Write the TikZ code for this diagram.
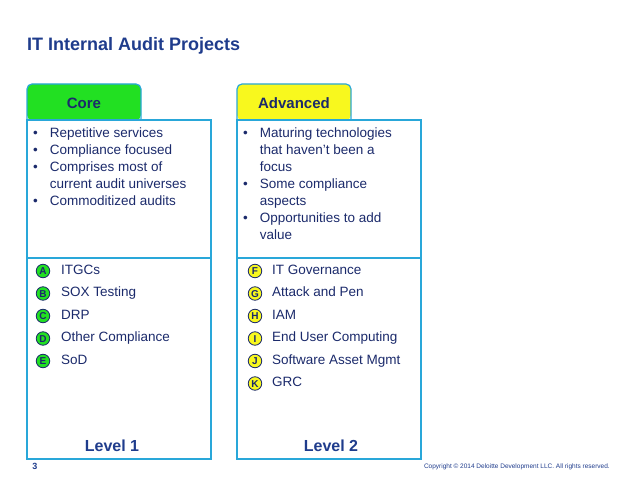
\documentclass[tikz,border=0pt]{standalone}
\usepackage{fontspec}
\setmainfont{Liberation Sans}
\begin{document}
\begin{tikzpicture}[x=1pt,y=-1pt,
  txt/.style={text=navy,font=\fontsize{13.5}{17}\selectfont,anchor=north west,inner sep=0pt,align=left},
  item/.style={text=navy,font=\fontsize{13.5}{16}\selectfont,anchor=west,inner sep=0pt,text height=9.7pt,text depth=2.8pt},
  tabbox/.style={draw=frame,line width=1.2pt,rounded corners=5pt},
  badge/.style={circle,draw=navy,line width=0.8pt,inner sep=0pt,minimum size=13.5pt,font=\fontsize{10}{10}\selectfont\bfseries,text=navy,text height=7.2pt,text depth=0pt}]
\definecolor{navy}{HTML}{1B2A6B}
\definecolor{frame}{HTML}{29A7D9}
\definecolor{titleblue}{HTML}{1F3C8C}
\definecolor{cgreen}{HTML}{22E022}
\definecolor{cyellow}{HTML}{F8F81E}
\useasboundingbox (0,0) rectangle (638,478);
\node[anchor=west,text=titleblue,font=\fontsize{18}{20}\selectfont\bfseries,inner sep=0pt] (title) at (27,46) {IT Internal Audit Projects};
% tabs
\fill[cgreen,rounded corners=5pt] (27,120) -- (27,84) -- (141,84) -- (141,120) -- cycle;
\draw[tabbox] (27,120) -- (27,84) -- (141,84) -- (141,120);
\fill[cyellow,rounded corners=5pt] (237,120) -- (237,84) -- (351,84) -- (351,120) -- cycle;
\draw[tabbox] (237,120) -- (237,84) -- (351,84) -- (351,120);
\node[text=navy,font=\fontsize{15}{17}\selectfont\bfseries] (core) at (84,103) {Core};
\node[text=navy,font=\fontsize{15}{17}\selectfont\bfseries] (adv) at (294,103) {Advanced};
% boxes
\draw[frame,line width=1.2pt] (27,120) rectangle (211,459);
\draw[frame,line width=1.2pt] (237,120) rectangle (421,459);
\draw[frame,line width=1.2pt] (27,258) -- (211,258);
\draw[frame,line width=1.2pt] (237,258) -- (421,258);
% bullets
\node[txt] (lb) at (33,125) {\begin{tabular}{@{}l@{\hspace{12pt}}l@{}}
•&Repetitive services\\ •&Compliance focused\\ •&Comprises most of\\ &current audit universes\\ •&Commoditized audits\end{tabular}};
\node[txt] (rb) at (243,125) {\begin{tabular}{@{}l@{\hspace{12pt}}l@{}}
•&Maturing technologies\\ &that haven’t been a\\ &focus\\ •&Some compliance\\ &aspects\\ •&Opportunities to add\\ &value\end{tabular}};
% lists
\foreach \l/\t/\y in {A/ITGCs/271,B/SOX Testing/293.5,C/DRP/316,D/Other Compliance/338.5,E/SoD/361}{
  \node[badge,fill=cgreen] (b\l) at (43,\y) {\l};
  \node[item] (t\l) at (61,\y) {\t};}
\foreach \l/\t/\y in {F/IT Governance/271,G/Attack and Pen/293.5,H/IAM/316,I/End User Computing/338.5,J/Software Asset Mgmt/361,K/GRC/383.5}{
  \node[badge,fill=cyellow] (b\l) at (255,\y) {\l};
  \node[item] (t\l) at (272,\y) {\t};}
\node[text=titleblue,font=\fontsize{16}{18}\selectfont\bfseries] (l1) at (112,446) {Level 1};
\node[text=titleblue,font=\fontsize{16}{18}\selectfont\bfseries] (l2) at (331,446) {Level 2};
\node[text=titleblue,font=\fontsize{9}{10}\selectfont\bfseries] (pg) at (35,466) {3};
\node[anchor=east,text=titleblue,font=\fontsize{6.5}{7}\selectfont,inner sep=0pt] (cp) at (610,467) {Copyright © 2014 Deloitte Development LLC. All rights reserved.};
\end{tikzpicture}
\end{document}
